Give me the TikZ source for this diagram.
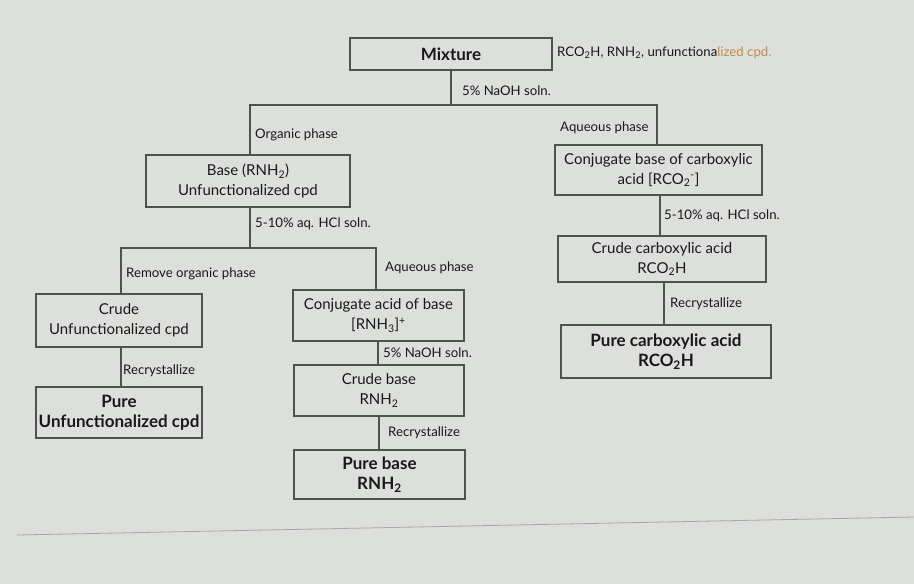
\documentclass[tikz,border=0pt]{standalone}
\usepackage{fontspec}
\setmainfont{Lato}
\begin{document}
\begin{tikzpicture}[x=1pt,y=-1pt,
  bx/.style={draw=linec,line width=1.1pt,fill=bgc,align=center,inner sep=0pt,text=txt,font=\fontsize{15}{20}\selectfont},
  bbx/.style={bx,font=\fontsize{17}{20}\selectfont\bfseries},
  lab/.style={anchor=base west,inner sep=0pt,text=txt,font=\fontsize{13.2}{15}\selectfont},
  conn/.style={draw=linec,line width=1.1pt}]
\definecolor{bgc}{RGB}{221,223,220}
\definecolor{linec}{RGB}{80,82,80}
\definecolor{txt}{RGB}{25,25,25}
\definecolor{glare}{RGB}{196,140,70}
\fill[bgc] (0,0) rectangle (914,584);
\useasboundingbox (0,0) rectangle (914,584);
\draw[line width=0.8pt,draw=gray!70] (17,535) -- (914,517);
% boxes
\node[bbx,minimum width=202pt,minimum height=32pt] (m) at (451,54) {Mixture};
\node[bx,minimum width=204pt,minimum height=52pt] (base) at (248,181) {Base (RNH\textsubscript{2})\\Unfunctionalized cpd};
\node[bx,minimum width=207pt,minimum height=50pt] (conjb) at (658.5,170) {Conjugate base of carboxylic\\acid [RCO\textsubscript{2}\textsuperscript{-}]};
\node[bx,minimum width=208pt,minimum height=46pt] (cacid) at (662,259) {Crude carboxylic acid\\RCO\textsubscript{2}H};
\node[bbx,minimum width=210pt,minimum height=53pt] (pacid) at (666,351.5) {Pure carboxylic acid\\RCO\textsubscript{2}H};
\node[bx,minimum width=166pt,minimum height=53pt] (crude) at (119,320.5) {Crude\\Unfunctionalized cpd};
\node[bbx,minimum width=166pt,minimum height=51pt] (pure) at (119,412.5) {Pure\\Unfunctionalized cpd};
\node[bx,minimum width=171pt,minimum height=51pt] (conja) at (378.5,315.5) {Conjugate acid of base\\{}[RNH\textsubscript{3}]\textsuperscript{+}};
\node[bx,minimum width=170pt,minimum height=51pt] (cbase) at (379,390.5) {Crude base\\RNH\textsubscript{2}};
\node[bbx,minimum width=171pt,minimum height=49pt] (pbase) at (379.5,474.5) {Pure base\\RNH\textsubscript{2}};
% junctions
\coordinate (j0) at (451,105);
\coordinate (j1L) at (250,105);
\coordinate (j1R) at (657,105);
\coordinate (j2) at (250,248);
\coordinate (j2L) at (121,248);
\coordinate (j2R) at (376,248);
% connectors
\draw[conn] (m.south -| j0) -- (j0);
\draw[conn] (j1L |- base.north) -- (j1L) -- (j1R) -- (j1R |- conjb.north);
\draw[conn] (j2 |- base.south) -- (j2);
\draw[conn] (j2L |- crude.north) -- (j2L) -- (j2R) -- (j2R |- conja.north);
\draw[conn] (121,0 |- crude.south) -- (121,0 |- pure.north);
\draw[conn] (378,0 |- conja.south) -- (378,0 |- cbase.north);
\draw[conn] (379,0 |- cbase.south) -- (379,0 |- pbase.north);
\draw[conn] (660,0 |- conjb.south) -- (660,0 |- cacid.north);
\draw[conn] (664,0 |- cacid.south) -- (664,0 |- pacid.north);
% labels
\node[lab] (l0) at (557,56) {RCO\textsubscript{2}H, RNH\textsubscript{2}, unfunctiona\textcolor{glare}{lized cpd.}};
\node[lab] (l1) at (462,95) {5\% NaOH soln.};
\node[lab] (l2) at (255,138) {Organic phase};
\node[lab] (l3) at (560,131) {Aqueous phase};
\node[lab] (l4) at (255,227) {5-10\% aq. HCl soln.};
\node[lab] (l5) at (664,219) {5-10\% aq. HCl soln.};
\node[lab] (l6) at (126,277) {Remove organic phase};
\node[lab] (l7) at (385,271) {Aqueous phase};
\node[lab] (l8) at (123,374) {Recrystallize};
\node[lab] (l9) at (383,357) {5\% NaOH soln.};
\node[lab] (l10) at (388,436) {Recrystallize};
\node[lab] (l11) at (670,307) {Recrystallize};
\end{tikzpicture}
\end{document}
